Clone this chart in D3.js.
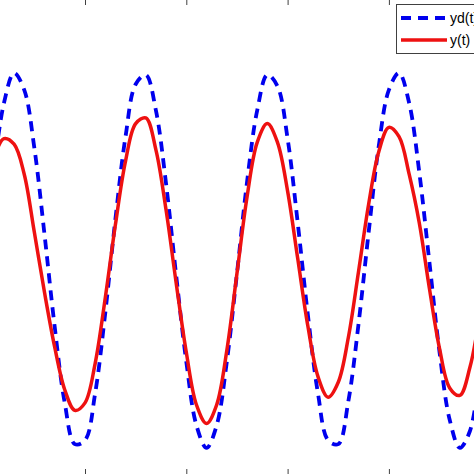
<!DOCTYPE html>
<html>
<head>
<meta charset="utf-8">
<script src="https://cdn.jsdelivr.net/npm/d3@7"></script>
<style>
 html,body{margin:0;padding:0;background:#fff;overflow:hidden;}
 svg{display:block;}
</style>
</head>
<body>
<div id="chart"></div>
<script>
// time samples (s)
var time=[0.5,1,1.5,2,2.5,3,3.5,4,4.5,5,5.5,6,6.5,7,7.5,8,8.5,9,9.5,10,10.5,11,11.5,12,12.5,13,13.5,14,14.5,15,15.5,16,16.5,17,17.5,18,18.5,19,19.5,20,20.5,21,21.5,22,22.5,23,23.5,24,24.5];
// desired output yd(t)
var yd=[0.48,0.84,1.00,0.91,0.60,0.14,-0.35,-0.76,-0.98,-0.96,-0.71,-0.28,0.22,0.66,0.94,0.99,0.80,0.41,-0.08,-0.54,-0.88,-1.00,-0.88,-0.54,-0.07,0.42,0.80,0.99,0.93,0.65,0.20,-0.29,-0.71,-0.96,-0.98,-0.75,-0.34,0.15,0.61,0.91,1.00,0.84,0.47,-0.01,-0.49,-0.85,-1.00,-0.91,-0.59];
// actual output y(t)
var y=[0.55,0.65,0.62,0.46,0.15,-0.17,-0.46,-0.69,-0.80,-0.76,-0.55,-0.20,0.19,0.53,0.73,0.76,0.59,0.27,-0.12,-0.49,-0.77,-0.87,-0.77,-0.48,-0.07,0.34,0.63,0.73,0.63,0.37,0.01,-0.35,-0.62,-0.73,-0.65,-0.41,-0.06,0.30,0.58,0.71,0.66,0.46,0.20,-0.15,-0.47,-0.68,-0.72,-0.57,-0.28];
var xTicks=[5,10,15,20];
var legendLabels=["yd(t)","y(t)"];

var W=474,H=474;
var svg=d3.select("#chart").append("svg").attr("width",W).attr("height",H);

var x=d3.scaleLinear().domain([0,25]).range([-16.3,490.2]);
var yS=d3.scaleLinear().domain([-1.15,1.4]).range([476,-2]);

// axes: ticks point inward, labels fall outside the photographed area
var axB=svg.append("g").attr("transform","translate(0,476)")
 .call(d3.axisBottom(x).tickValues(xTicks).tickSizeInner(-7).tickSizeOuter(0));
var axT=svg.append("g").attr("transform","translate(0,-2)")
 .call(d3.axisTop(x).tickValues(xTicks).tickSizeInner(-7).tickSizeOuter(0));
[axB,axT].forEach(function(a){
 a.selectAll("path,line").attr("stroke","#404040").attr("stroke-width",1);
 a.selectAll("text").attr("font-family","Liberation Sans, Arial, sans-serif").attr("font-size",13).attr("fill","#262626");
});

var line=function(vals){
 return d3.line().curve(d3.curveCatmullRom.alpha(0.5))
  .x(function(d,i){return x(time[i]);})
  .y(function(d){return yS(d);})(vals);
};

svg.append("path").attr("d",line(yd))
 .attr("fill","none").attr("stroke","#0000ee").attr("stroke-width",3.8)
 .attr("stroke-dasharray","10,7");
svg.append("path").attr("d",line(y))
 .attr("fill","none").attr("stroke","#ee1111").attr("stroke-width",3.5)
 .attr("stroke-linejoin","round");

// legend
var lg=svg.append("g").attr("transform","translate(396,4)");
lg.append("rect").attr("x",0.5).attr("y",0.5).attr("width",120).attr("height",49)
 .attr("fill","#fff").attr("stroke","#404040").attr("stroke-width",1);
var styles=[{c:"#0000ee",w:3.8,d:"10,7"},{c:"#ee1111",w:3.5,d:null}];
legendLabels.forEach(function(lab,i){
 var cy=14+i*22;
 lg.append("line").attr("x1",5).attr("x2",51).attr("y1",cy).attr("y2",cy)
  .attr("stroke",styles[i].c).attr("stroke-width",styles[i].w)
  .attr("stroke-dasharray",styles[i].d);
 lg.append("text").attr("x",54).attr("y",cy).attr("dy","0.35em")
  .attr("font-family","Liberation Sans, Arial, sans-serif").attr("font-size",14)
  .attr("fill","#000").text(lab);
});
</script>
</body>
</html>
